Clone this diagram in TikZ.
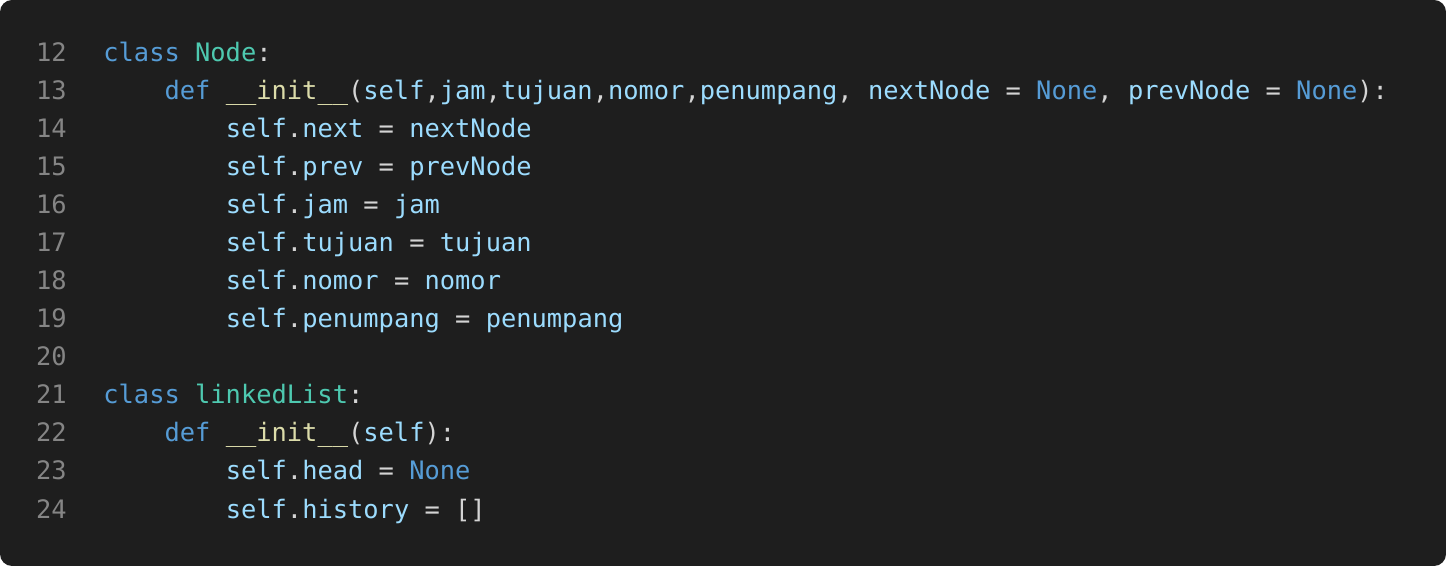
\documentclass[tikz,border=0pt]{standalone}
\usepackage{fontspec}
\setmonofont{DejaVu Sans Mono}
\definecolor{bg}{HTML}{1E1E1E}
\definecolor{kw}{HTML}{569CD6}
\definecolor{cls}{HTML}{4EC9B0}
\definecolor{fn}{HTML}{DCDCAA}
\definecolor{var}{HTML}{9CDCFE}
\definecolor{txt}{HTML}{D4D4D4}
\definecolor{num}{HTML}{858585}
\newcommand\Kw[1]{\textcolor{kw}{#1}}
\newcommand\Cl[1]{\textcolor{cls}{#1}}
\newcommand\Fn[1]{\textcolor{fn}{#1}}
\newcommand\Vr[1]{\textcolor{var}{#1}}
\begin{document}
\begin{tikzpicture}[x=1pt,y=-1pt,
  code/.style={anchor=base west,inner sep=0pt,font=\ttfamily\fontsize{12.7}{14}\selectfont,text=txt},
  lno/.style={anchor=base east,inner sep=0pt,font=\ttfamily\fontsize{12.7}{14}\selectfont,text=num}]
\fill[white] (0,0) rectangle (723,283);
\useasboundingbox (0,0) rectangle (723,283);
\fill[bg,rounded corners=6pt] (0,0) rectangle (723,283);
\foreach \n [count=\i from 0] in {12,...,24}
  \node[lno] (n\n) at (33.5,{31+19*\i}) {\n};
\def\a{51.5}\def\b{82.1}\def\c{112.7}
\node[code] (l12) at (\a,31) {\Kw{class} \Cl{Node}:};
\node[code] (l13) at (\b,50) {\Kw{def} \Fn{\_\_init\_\_}(\Vr{self},\Vr{jam},\Vr{tujuan},\Vr{nomor},\Vr{penumpang}, \Vr{nextNode} = \Kw{None}, \Vr{prevNode} = \Kw{None}):};
\node[code] (l14) at (\c,69) {\Vr{self}.\Vr{next} = \Vr{nextNode}};
\node[code] (l15) at (\c,88) {\Vr{self}.\Vr{prev} = \Vr{prevNode}};
\node[code] (l16) at (\c,107) {\Vr{self}.\Vr{jam} = \Vr{jam}};
\node[code] (l17) at (\c,126) {\Vr{self}.\Vr{tujuan} = \Vr{tujuan}};
\node[code] (l18) at (\c,145) {\Vr{self}.\Vr{nomor} = \Vr{nomor}};
\node[code] (l19) at (\c,164) {\Vr{self}.\Vr{penumpang} = \Vr{penumpang}};
\node[code] (l21) at (\a,202) {\Kw{class} \Cl{linkedList}:};
\node[code] (l22) at (\b,221) {\Kw{def} \Fn{\_\_init\_\_}(\Vr{self}):};
\node[code] (l23) at (\c,240) {\Vr{self}.\Vr{head} = \Kw{None}};
\node[code] (l24) at (\c,259) {\Vr{self}.\Vr{history} = []};
\end{tikzpicture}
\end{document}
